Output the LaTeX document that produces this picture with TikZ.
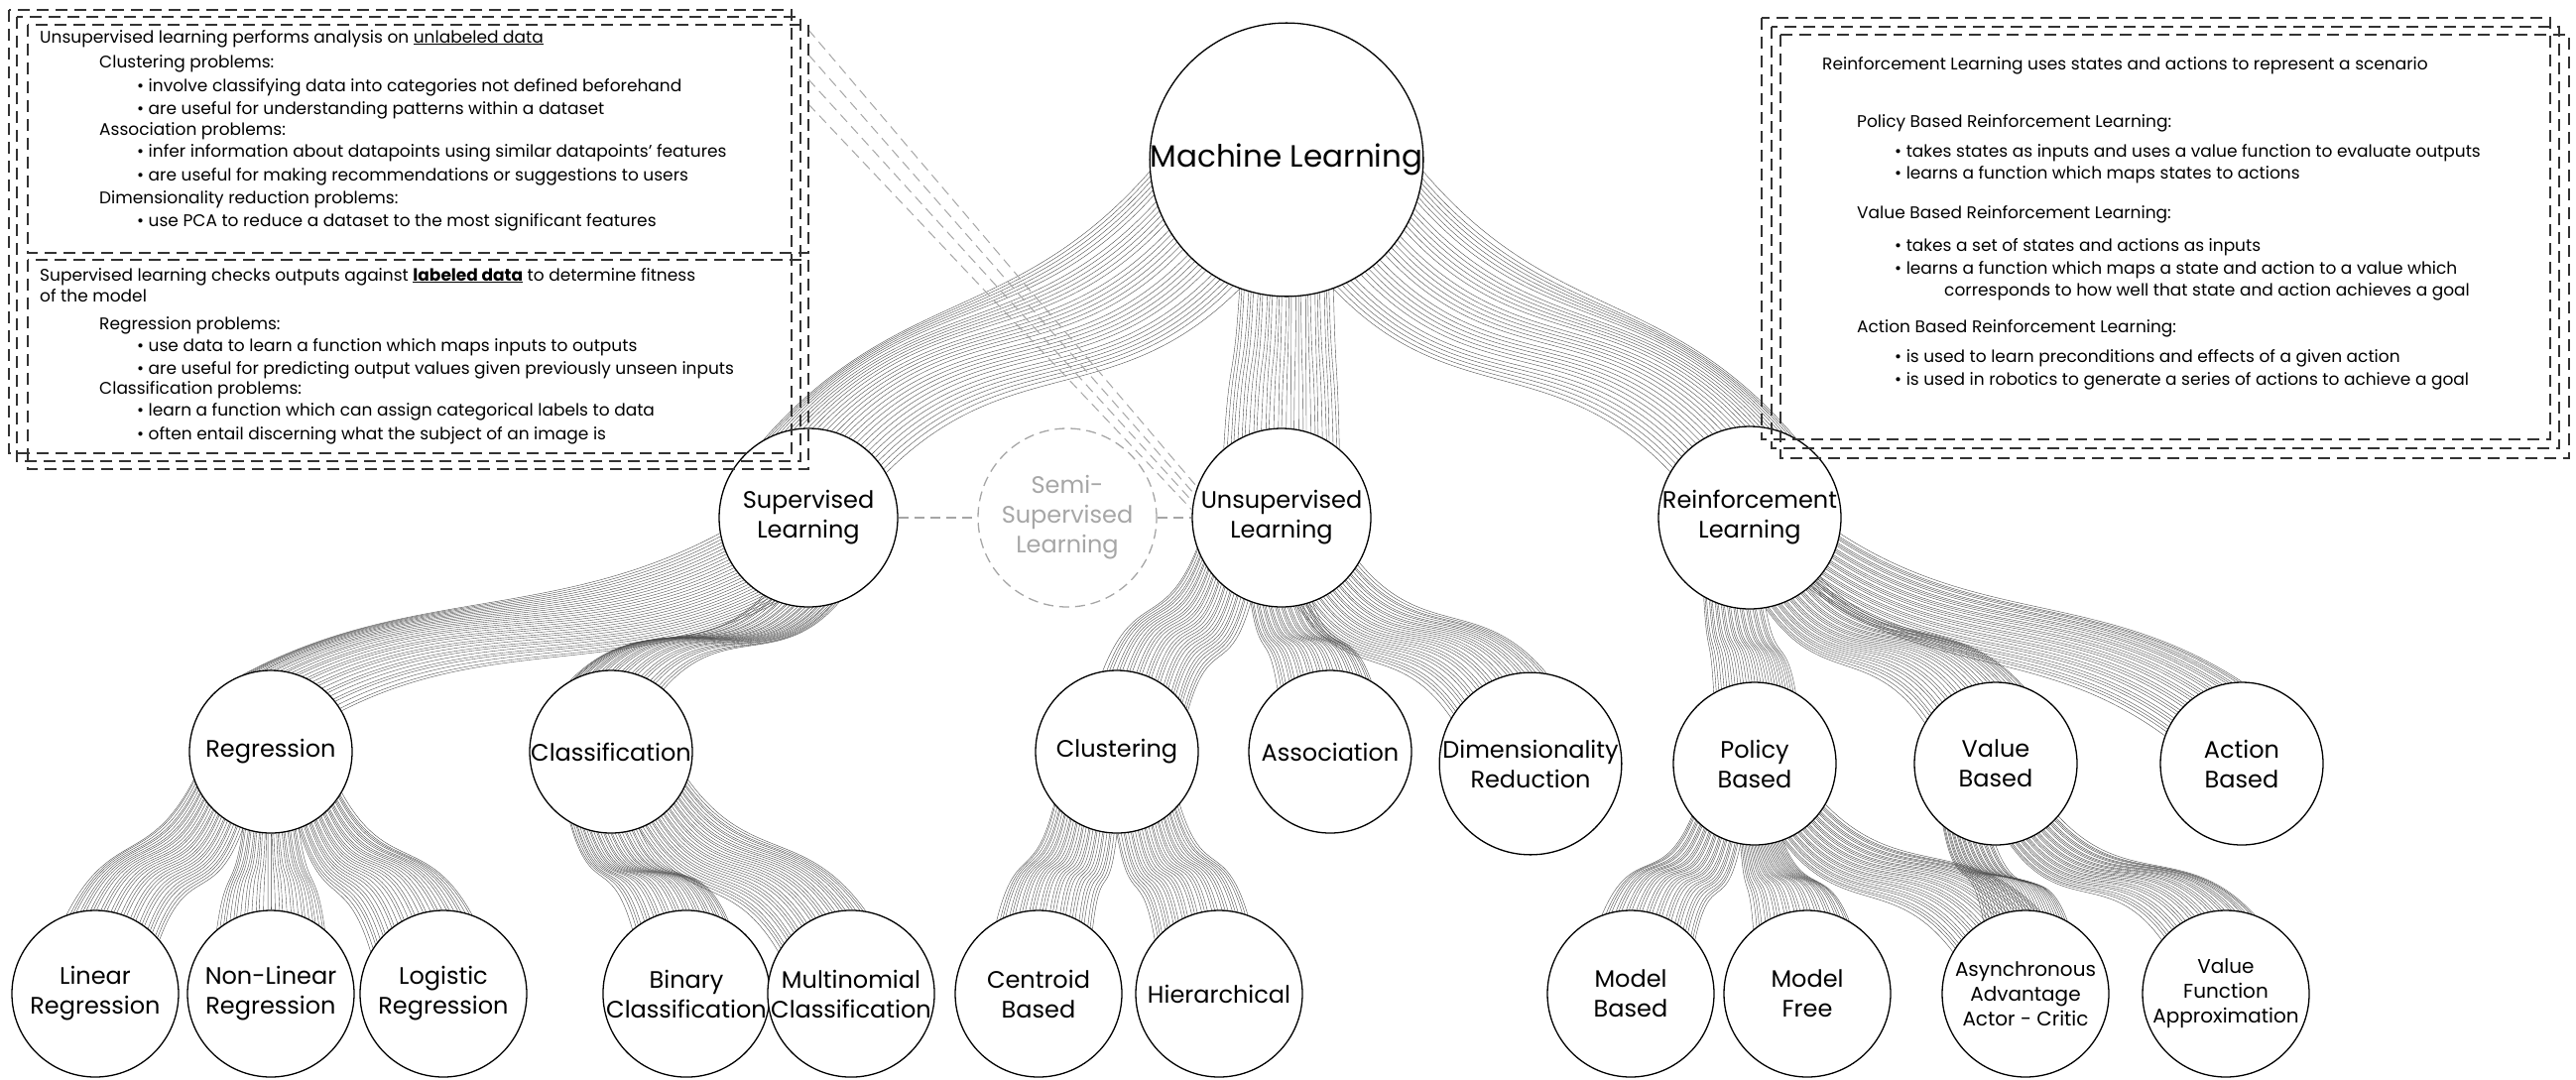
\documentclass[tikz,border=0pt]{standalone}
\usepackage{fontspec}
\setmainfont{Poppins}
\usetikzlibrary{backgrounds,calc}
\tikzset{
  x=1pt,y=-1pt,
  nd/.style={circle,draw,line width=1.3pt,fill=white,inner sep=0pt,align=center,font=\fontsize{24}{30}\selectfont},
  big/.style={nd,minimum size=256pt,font=\fontsize{31}{36}\selectfont},
  mid/.style={nd,minimum size=180pt},
  sml/.style={nd,minimum size=164pt},
  bot/.style={nd,minimum size=168pt},
  semi/.style={circle,draw=gray!70,dashed,line width=1.3pt,dash pattern=on 10pt off 6pt,minimum size=180pt,inner sep=0pt,align=center,text=gray!70,font=\fontsize{24}{30}\selectfont},
  dbox/.style={draw=black!80,line width=1.3pt,dash pattern=on 12pt off 7pt},
  tl/.style={anchor=base west,inner sep=0pt,font=\fontsize{17}{20}\selectfont},
  fib/.style={line width=0.4pt,draw=black!70},
}
\newcommand\bundle[7]{%
  \foreach \i in {0,...,30}{%
    \pgfmathsetmacro\pa{#3+(#4-#3)*\i/30}%
    \pgfmathsetmacro\ca{#5+(#6-#5)*\i/30}%
    \draw[fib] (#1.\pa) .. controls ($(#1.\pa)!0.35!(#2.\ca)+(0,#7)$) and ($(#1.\pa)!0.65!(#2.\ca)+(0,-#7)$) .. (#2.\ca);%
  }%
}
\begin{document}
\begin{tikzpicture}
\useasboundingbox (0,0) rectangle (2597,1088);
% nodes
\node[big] (ml) at (1297,161) {Machine Learning};
\node[mid] (sup) at (815,522) {Supervised\\Learning};
\node[semi] (semi) at (1076,522) {Semi-\\Supervised\\Learning};
\node[mid] (uns) at (1292,522) {Unsupervised\\Learning};
\node[mid] (rei) at (1764,522) {Reinforcement\\Learning};
\node[sml] (reg) at (273,758) {Regression};
\node[sml] (cla) at (616,758) {Classification};
\node[sml] (clu) at (1126,758) {Clustering};
\node[sml] (ass) at (1341,758) {Association};
\node[sml] (dim) at (1543,770) {Dimensionality\\Reduction};
\node[sml] (pol) at (1769,770) {Policy\\Based};
\node[sml] (val) at (2012,770) {Value\\Based};
\node[sml] (act) at (2260,770) {Action\\Based};
\node[bot] (lin) at (96,1002) {Linear\\Regression};
\node[bot] (nlr) at (273,1002) {Non-Linear\\Regression};
\node[bot] (log) at (447,1002) {Logistic\\Regression};
\node[bot] (bin) at (692,1002) {Binary\\Classification};
\node[bot] (mul) at (858,1002) {Multinomial\\Classification};
\node[bot] (cen) at (1047,1002) {Centroid\\Based};
\node[bot] (hie) at (1229,1002) {Hierarchical};
\node[bot] (mb) at (1644,1002) {Model\\Based};
\node[bot] (mf) at (1822,1002) {Model\\Free};
\node[bot,font=\fontsize{20}{25}\selectfont] (a3c) at (2042,1002) {Asynchronous\\Advantage\\Actor - Critic};
\node[bot,font=\fontsize{20}{25}\selectfont] (vfa) at (2244,1002) {Value\\Function\\Approximation};
\begin{scope}[on background layer]
\bundle{ml}{sup}{185}{250}{120}{30}{60}
\bundle{ml}{uns}{250}{290}{130}{50}{40}
\bundle{ml}{rei}{290}{355}{150}{60}{60}
\bundle{sup}{reg}{190}{250}{110}{30}{40}
\bundle{sup}{cla}{240}{290}{120}{50}{40}
\bundle{uns}{clu}{200}{250}{100}{30}{40}
\bundle{uns}{ass}{250}{290}{130}{60}{30}
\bundle{uns}{dim}{280}{330}{150}{80}{40}
\bundle{rei}{pol}{240}{280}{120}{60}{30}
\bundle{rei}{val}{280}{320}{150}{70}{40}
\bundle{rei}{act}{310}{350}{160}{90}{40}
\bundle{reg}{lin}{200}{250}{110}{40}{40}
\bundle{reg}{nlr}{250}{290}{130}{50}{30}
\bundle{reg}{log}{290}{330}{150}{70}{40}
\bundle{cla}{bin}{240}{290}{130}{60}{40}
\bundle{cla}{mul}{290}{340}{150}{80}{40}
\bundle{clu}{cen}{220}{270}{120}{50}{40}
\bundle{clu}{hie}{270}{320}{140}{70}{40}
\bundle{pol}{mb}{220}{260}{110}{40}{40}
\bundle{pol}{mf}{260}{290}{130}{60}{30}
\bundle{pol}{a3c}{290}{330}{150}{80}{40}
\bundle{val}{a3c}{230}{270}{120}{60}{40}
\bundle{val}{vfa}{280}{320}{140}{70}{40}
\end{scope}
% semi dashed links
\draw[gray!70,line width=1.3pt,dash pattern=on 10pt off 6pt] (sup) -- (semi) -- (uns);
% gray dashed leaders from box
\coordinate (b1) at (815,30); \coordinate (b2) at (815,55);
\coordinate (b3) at (815,80); \coordinate (b4) at (815,105);
\foreach \b/\a in {b1/160,b2/165,b3/170,b4/175}
  \draw[gray!70,line width=1pt,dash pattern=on 10pt off 6pt] (\b) -- (uns.\a);
% left boxes
\draw[dbox] (9,10) rectangle (798,457);
\draw[dbox] (17,17) rectangle (807,465);
\draw[dbox] (28,25) rectangle (815,255);
\draw[dbox] (28,262) rectangle (815,473);
\node[tl] (t1) at (40,43) {Unsupervised learning performs analysis on \underline{unlabeled data}};
\node[tl] (t2) at (100,68) {Clustering problems:};
\node[tl] (t3) at (138,92) {• involve classifying data into categories not defined beforehand};
\node[tl] (t4) at (138,115) {• are useful for understanding patterns within a dataset};
\node[tl] (t5) at (100,136) {Association problems:};
\node[tl] (t6) at (138,158) {• infer information about datapoints using similar datapoints’ features};
\node[tl] (t7) at (138,182) {• are useful for making recommendations or suggestions to users};
\node[tl] (t8) at (100,205) {Dimensionality reduction problems:};
\node[tl] (t9) at (138,228) {• use PCA to reduce a dataset to the most significant features};
\node[tl] (s1) at (40,283) {Supervised learning checks outputs against \underline{\textbf{labeled data}} to determine fitness};
\node[tl] (s2) at (40,304) {of the model};
\node[tl] (s3) at (100,332) {Regression problems:};
\node[tl] (s4) at (138,354) {• use data to learn a function which maps inputs to outputs};
\node[tl] (s5) at (138,377) {• are useful for predicting output values given previously unseen inputs};
\node[tl] (s6) at (100,397) {Classification problems:};
\node[tl] (s7) at (138,419) {• learn a function which can assign categorical labels to data};
\node[tl] (s8) at (138,443) {• often entail discerning what the subject of an image is};
% right box
\draw[dbox] (1776,18) rectangle (2571,443);
\draw[dbox] (1786,27) rectangle (2580,452);
\draw[dbox] (1795,35) rectangle (2590,462);
\node[tl] (r1) at (1837,70) {Reinforcement Learning uses states and actions to represent a scenario};
\node[tl] (r2) at (1872,128) {Policy Based Reinforcement Learning:};
\node[tl] (r3) at (1910,158) {• takes states as inputs and uses a value function to evaluate outputs};
\node[tl] (r4) at (1910,180) {• learns a function which maps states to actions};
\node[tl] (r5) at (1872,220) {Value Based Reinforcement Learning:};
\node[tl] (r6) at (1910,253) {• takes a set of states and actions as inputs};
\node[tl] (r7) at (1910,276) {• learns a function which maps a state and action to a value which};
\node[tl] (r8) at (1960,298) {corresponds to how well that state and action achieves a goal};
\node[tl] (r9) at (1872,335) {Action Based Reinforcement Learning:};
\node[tl] (r10) at (1910,365) {• is used to learn preconditions and effects of a given action};
\node[tl] (r11) at (1910,388) {• is used in robotics to generate a series of actions to achieve a goal};
\end{tikzpicture}
\end{document}
